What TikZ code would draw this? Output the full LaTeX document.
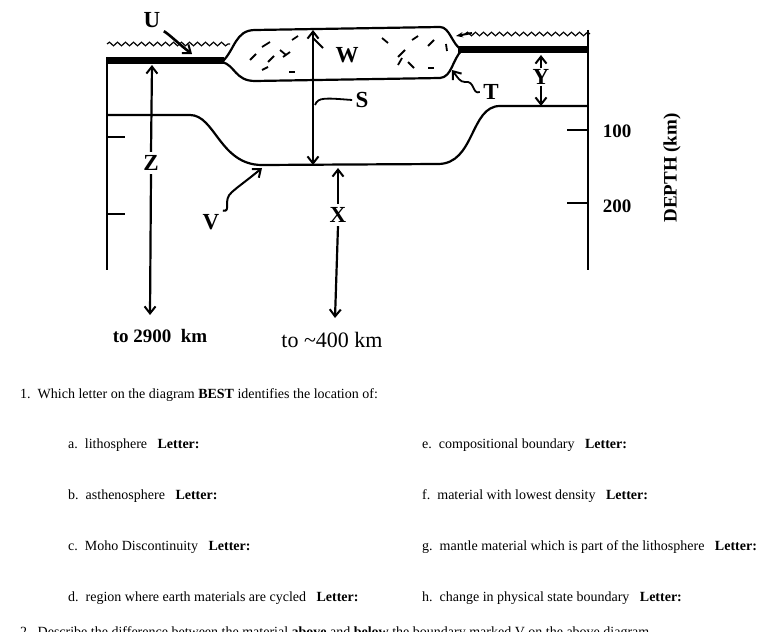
\documentclass[tikz,border=0pt]{standalone}
\usepackage{fontspec}
\setmainfont{Liberation Serif}
\usetikzlibrary{arrows.meta,decorations.pathmorphing}
\begin{document}
\begin{tikzpicture}[x=1pt,y=-1pt,
  ln/.style={line width=2.2pt},
  arr/.style={line width=2.2pt,-{Straight Barb[length=7pt,width=11pt,line width=2pt]}},
  big/.style={font=\fontsize{23}{24}\selectfont\bfseries},
  mid/.style={font=\fontsize{19}{20}\selectfont\bfseries},
  q/.style={font=\fontsize{14}{16}\selectfont,anchor=west,inner sep=0pt}]
\useasboundingbox (0,0) rectangle (778,631);
\clip (0,0) rectangle (778,631);
% frame lines
\draw[ln] (107,57) -- (107,270);
\draw[ln] (588,30) -- (588,270);
\draw[ln] (107,137) -- (125,137); \draw[ln] (107,214) -- (125,214);
\draw[ln] (567,130) -- (588,130); \draw[ln] (567,203) -- (588,203);
% thick bars
\fill (107,57) rectangle (224,64);
\fill (458,46) rectangle (588,53);
% wavy surface
\draw[line width=1.2pt,decorate,decoration={snake,amplitude=1.8pt,segment length=8pt}] (107,44) -- (230,44);
\draw[line width=1.2pt,decorate,decoration={snake,amplitude=1.8pt,segment length=8pt}] (465,34) -- (590,34);
% continent
\coordinate (wl) at (222,62); \coordinate (wr) at (462,50);
\draw[ln] (wl) .. controls (235,50) and (235,30) .. (255,30) -- (440,27)
  .. controls (450,27) and (452,45) .. (wr)
  .. controls (452,60) and (452,77) .. (440,78) -- (255,81)
  .. controls (235,81) and (235,65) .. (wl);
\foreach \a/\b/\c/\d in {250/60/256/54, 262/47/270/42, 268/62/274/56, 283/57/290/52, 292/40/298/36, 262/70/268/67, 289/72/295/72, 280/50/286/55, 382/38/388/43, 398/57/405/50, 412/40/418/36, 428/46/434/40, 398/65/402/58, 408/62/414/68, 428/68/434/68, 446/44/447/51}
  \draw[line width=1.8pt] (\a,\b) -- (\c,\d);
% lithosphere base
\draw[ln] (107,115) -- (190,115) .. controls (215,115) and (220,165) .. (262,165) -- (438,164)
  .. controls (475,164) and (470,106) .. (500,106) -- (588,106);
% S
\coordinate (s1) at (313,30); \coordinate (s2) at (313,165);
\draw[arr] (313,97) -- (s1); \draw[arr] (313,97) -- (s2);
\node[big] (S) at (362,100) {S};
\draw[line width=1.8pt] (315,105) .. controls (318,97) and (325,98) .. (S.west);
% W
\node[big] (W) at (347,55) {W};
\draw[line width=1.8pt] (313,38) -- (323,48);
% Z
\node[big] (Z) at (151,163) {Z};
\coordinate (z1) at (152,65); \coordinate (z2) at (150,315);
\draw[arr] (Z.north) -- (z1); \draw[arr] (Z.south) -- (z2);
\node[mid] (t29) at (160,336) {to 2900 \ km};
% X
\node[big] (X) at (338,215) {X};
\coordinate (x1) at (338,168); \coordinate (x2) at (335,318);
\draw[arr] (X.north) -- (x1); \draw[arr] (X.south) -- (x2);
\node[font=\fontsize{22}{24}\selectfont] (t4) at (332,340) {to \textasciitilde400 km};
% Y
\node[big,inner sep=1pt] (Y) at (541,77) {Y};
\coordinate (y1) at (541,55); \coordinate (y2) at (541,106);
\draw[arr,line width=1.6pt] (Y.north) -- (y1); \draw[arr,line width=1.6pt] (Y.south) -- (y2);
% U
\node[big] (U) at (152,20) {U};
\coordinate (u1) at (192,54);
\draw[arr,line width=2.6pt] (U.south east) .. controls (170,35) and (180,45) .. (u1);
% T
\node[big] (T) at (491,92) {T};
\coordinate (t1) at (452,70);
\draw[arr,line width=1.8pt] (T.west) .. controls (472,95) and (475,80) .. (465,82) .. controls (460,82) and (458,78) .. (t1);
\coordinate (ts) at (456,36);
\draw[line width=2pt,-{Stealth[length=7pt]}] (472,33) -- (ts);
% V
\node[big] (V) at (211,222) {V};
\coordinate (v1) at (262,168);
\draw[arr,line width=2pt] (V.north east) .. controls (232,212) and (222,200) .. (232,192) .. controls (240,185) and (245,182) .. (v1);
% depth
\node[mid] (n100) at (617,131) {100};
\node[mid] (n200) at (617,206) {200};
\node[mid,rotate=90] (dep) at (672,168) {DEPTH (km)};
% questions
\node[q] (q1) at (20,395) {1.\ \ Which letter on the diagram \textbf{BEST} identifies the location of:};
\node[q] (qa) at (68,445) {a.\ \ lithosphere\ \ \ \textbf{Letter:}};
\node[q] (qe) at (422,445) {e.\ \ compositional boundary\ \ \ \textbf{Letter:}};
\node[q] (qb) at (68,496) {b.\ \ asthenosphere\ \ \ \textbf{Letter:}};
\node[q] (qf) at (422,496) {f.\ \ material with lowest density\ \ \ \textbf{Letter:}};
\node[q] (qc) at (68,547) {c.\ \ Moho Discontinuity\ \ \ \textbf{Letter:}};
\node[q] (qg) at (422,547) {g.\ \ mantle material which is part of the lithosphere\ \ \ \textbf{Letter:}};
\node[q] (qd) at (68,598) {d.\ \ region where earth materials are cycled\ \ \ \textbf{Letter:}};
\node[q] (qh) at (422,598) {h.\ \ change in physical state boundary\ \ \ \textbf{Letter:}};
\node[q] (q2) at (20,633) {2.\ \ Describe the difference between the material \textbf{above} and \textbf{below} the boundary marked V on the above diagram.};
\end{tikzpicture}
\end{document}
